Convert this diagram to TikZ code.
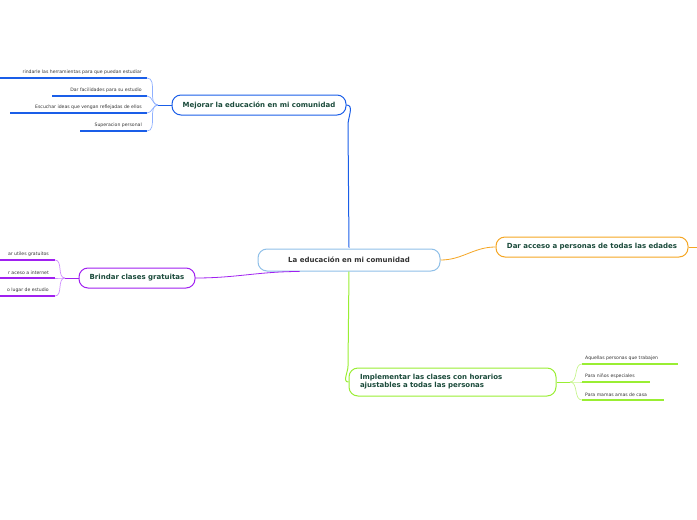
\documentclass[tikz,border=0pt]{standalone}
\usepackage{fontspec}
\setmainfont{DejaVu Sans}
\definecolor{cb}{HTML}{1A5EE8}
\definecolor{cbl}{HTML}{8FB0FF}
\definecolor{co}{HTML}{F5A623}
\definecolor{cp}{HTML}{A020F0}
\definecolor{cpl}{HTML}{D090FF}
\definecolor{cg}{HTML}{99EE33}
\definecolor{cgl}{HTML}{C8F590}
\definecolor{cc}{HTML}{90C0E8}
\definecolor{tx}{HTML}{1A4A3A}
\begin{document}
\begin{tikzpicture}[x=1pt,y=-1pt,
 main/.style={draw,rounded corners=9pt,line width=1pt,fill=white,font=\bfseries\fontsize{7}{8}\selectfont,text=tx,inner sep=0pt},
 leaf/.style={font=\fontsize{4.6}{5}\selectfont,text=black!80,inner sep=1pt,anchor=south east}]
\useasboundingbox (0,0) rectangle (697,520);
% central
\node[main,draw=cc,minimum width=182pt,minimum height=22pt,text=black!80] (c) at (349,260) {La educación en mi comunidad};
% main topics
\node[main,draw=cb,minimum width=174pt,minimum height=20pt] (m) at (259,105) {Mejorar la educación en mi comunidad};
\node[main,draw=co,minimum width=192pt,minimum height=20pt] (d) at (592,247) {Dar acceso a personas de todas las edades};
\node[main,draw=cp,minimum width=116pt,minimum height=20pt] (b) at (137,278) {Brindar clases gratuitas};
\node[main,draw=cg,minimum width=207pt,minimum height=28pt,align=left,text width=185pt] (i) at (452.5,382) {Implementar las clases con horarios\\ajustables a todas las personas};
% connectors
\draw[cb,line width=1pt] (c.north) ++(0,-1) coordinate (c1) -- (348,125) to[out=90,in=0] (m.east);
\draw[co,line width=0.8pt] (c.east) to[out=0,in=180] (d.west);
\draw[co,line width=0.8pt] (d.east) -- (697,247);
\draw[cp,line width=0.8pt] (c.south west)++(42,0) coordinate (c2) to[out=180,in=0] (b.east);
\draw[cg,line width=1pt] (c.south) -- (348,366) to[out=-90,in=180] (i.west);
% blue leaves
\coordinate (mj) at (158,105);
\draw[cb,line width=1pt] (m.west) -- (mj);
\foreach \y/\xl/\t [count=\k] in {78/0/rindarle las herramientas para que puedan estudiar,96/52/Dar facilidades para su estudio,113/10/Escuchar ideas que vengan reflejadas de ellos,131/80/Superacion personal}{
 \coordinate (me\k) at (147,\y);
 \draw[cb,line width=1.5pt] (\xl,\y) -- (me\k);
 \node[leaf] (ml\k) at (143,\y-2) {\t};
 \draw[cbl,line width=0.7pt] (mj) to[out=180,in=0] (me\k);
}
% purple leaves
\coordinate (bj) at (65,278);
\draw[cp,line width=1pt] (b.west) -- (bj);
\foreach \y/\t [count=\k] in {260/ar utiles gratuitos,278/r aceso a internet,296/o lugar de estudio}{
 \coordinate (be\k) at (55,\y);
 \draw[cp,line width=1.5pt] (0,\y) -- (be\k);
 \node[leaf] (bl\k) at (50,\y-2) {\t};
 \draw[cpl,line width=0.7pt] (bj) to[out=180,in=0] (be\k);
}
% green leaves
\coordinate (ij) at (570,382);
\draw[cg,line width=1pt] (i.east) -- (ij);
\foreach \y/\xr/\t [count=\k] in {364/678/Aquellas personas que trabajen,382/650/Para niños especiales,400/664/Para mamas amas de casa}{
 \coordinate (ie\k) at (582,\y);
 \draw[cg,line width=1.5pt] (ie\k) -- (\xr,\y);
 \node[leaf,anchor=south west] (il\k) at (584,\y-2) {\t};
 \draw[cgl,line width=0.7pt] (ij) to[out=0,in=180] (ie\k);
}
\end{tikzpicture}
\end{document}
